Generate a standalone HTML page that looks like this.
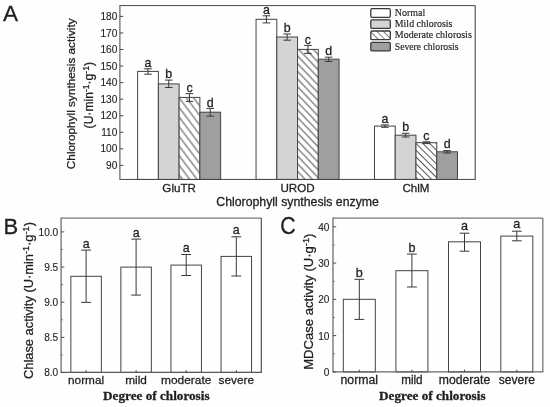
<!DOCTYPE html>
<html><head><meta charset="utf-8"><style>
html,body{margin:0;padding:0;background:#fff;}
svg{display:block;filter:blur(0.3px);}
text{stroke:#1e1e1e;stroke-width:0.28px;paint-order:stroke;}
</style></head><body>
<svg width="550" height="407" viewBox="0 0 550 407">
<rect width="550" height="407" fill="#fefefe"/>
<defs>
<pattern id="hatch0" patternUnits="userSpaceOnUse" x="0.1" width="5.8" height="5.8" patternTransform="rotate(-37)">
<rect width="5.8" height="5.8" fill="#fff"/>
<line x1="2.9" y1="0" x2="2.9" y2="5.8" stroke="#2e2e2e" stroke-width="0.85"/>
</pattern>
<pattern id="hatch1" patternUnits="userSpaceOnUse" x="-0.975" width="5.31" height="5.31" patternTransform="rotate(-43.6)">
<rect width="5.31" height="5.31" fill="#fff"/>
<line x1="2.655" y1="0" x2="2.655" y2="5.31" stroke="#2e2e2e" stroke-width="0.85"/>
</pattern>
<pattern id="hatch2" patternUnits="userSpaceOnUse" x="-1.65" width="4.8" height="4.8" patternTransform="rotate(-45)">
<rect width="4.8" height="4.8" fill="#fff"/>
<line x1="2.4" y1="0" x2="2.4" y2="4.8" stroke="#2e2e2e" stroke-width="0.8"/>
</pattern>
<pattern id="hatchl" patternUnits="userSpaceOnUse" width="4.6" height="4.6" patternTransform="rotate(-45)">
<rect width="4.6" height="4.6" fill="#fff"/>
<line x1="0" y1="0" x2="0" y2="4.6" stroke="#333" stroke-width="1.2"/>
</pattern>
</defs>
<rect x="137.62" y="71.40" width="20.75" height="108.05" fill="#ffffff" stroke="#444" stroke-width="1.0"/>
<rect x="158.37" y="83.90" width="20.75" height="95.55" fill="#d4d4d4" stroke="#444" stroke-width="1.0"/>
<rect x="179.12" y="97.40" width="20.75" height="82.05" fill="url(#hatch0)" stroke="#444" stroke-width="1.0"/>
<rect x="199.87" y="112.20" width="20.75" height="67.25" fill="#9f9f9f" stroke="#444" stroke-width="1.0"/>
<line x1="147.99" y1="68.80" x2="147.99" y2="74.20" stroke="#383838" stroke-width="1.0"/>
<line x1="144.19" y1="68.80" x2="151.79" y2="68.80" stroke="#383838" stroke-width="1.0"/>
<line x1="144.19" y1="74.20" x2="151.79" y2="74.20" stroke="#383838" stroke-width="1.0"/>
<text x="147.99" y="66.95" font-size="12.4" text-anchor="middle" font-family="'Liberation Sans', Arial, sans-serif" font-weight="normal" fill="#1e1e1e" >a</text>
<line x1="168.74" y1="80.10" x2="168.74" y2="87.50" stroke="#383838" stroke-width="1.0"/>
<line x1="164.94" y1="80.10" x2="172.54" y2="80.10" stroke="#383838" stroke-width="1.0"/>
<line x1="164.94" y1="87.50" x2="172.54" y2="87.50" stroke="#383838" stroke-width="1.0"/>
<text x="168.74" y="78.45" font-size="12.4" text-anchor="middle" font-family="'Liberation Sans', Arial, sans-serif" font-weight="normal" fill="#1e1e1e" >b</text>
<line x1="189.49" y1="93.60" x2="189.49" y2="101.40" stroke="#383838" stroke-width="1.0"/>
<line x1="185.69" y1="93.60" x2="193.29" y2="93.60" stroke="#383838" stroke-width="1.0"/>
<line x1="185.69" y1="101.40" x2="193.29" y2="101.40" stroke="#383838" stroke-width="1.0"/>
<text x="189.49" y="91.85" font-size="12.4" text-anchor="middle" font-family="'Liberation Sans', Arial, sans-serif" font-weight="normal" fill="#1e1e1e" >c</text>
<line x1="210.24" y1="108.40" x2="210.24" y2="116.20" stroke="#383838" stroke-width="1.0"/>
<line x1="206.44" y1="108.40" x2="214.04" y2="108.40" stroke="#383838" stroke-width="1.0"/>
<line x1="206.44" y1="116.20" x2="214.04" y2="116.20" stroke="#383838" stroke-width="1.0"/>
<text x="210.24" y="106.75" font-size="12.4" text-anchor="middle" font-family="'Liberation Sans', Arial, sans-serif" font-weight="normal" fill="#1e1e1e" >d</text>
<text x="179.12" y="192.40" font-size="11.6" text-anchor="middle" font-family="'Liberation Sans', Arial, sans-serif" font-weight="normal" fill="#1e1e1e" >GluTR</text>
<rect x="256.05" y="19.30" width="20.75" height="160.15" fill="#ffffff" stroke="#444" stroke-width="1.0"/>
<rect x="276.80" y="37.00" width="20.75" height="142.45" fill="#d4d4d4" stroke="#444" stroke-width="1.0"/>
<rect x="297.55" y="49.40" width="20.75" height="130.05" fill="url(#hatch1)" stroke="#444" stroke-width="1.0"/>
<rect x="318.30" y="59.20" width="20.75" height="120.25" fill="#9f9f9f" stroke="#444" stroke-width="1.0"/>
<line x1="266.42" y1="15.80" x2="266.42" y2="22.90" stroke="#383838" stroke-width="1.0"/>
<line x1="262.62" y1="15.80" x2="270.22" y2="15.80" stroke="#383838" stroke-width="1.0"/>
<line x1="262.62" y1="22.90" x2="270.22" y2="22.90" stroke="#383838" stroke-width="1.0"/>
<text x="266.42" y="13.55" font-size="12.4" text-anchor="middle" font-family="'Liberation Sans', Arial, sans-serif" font-weight="normal" fill="#1e1e1e" >a</text>
<line x1="287.17" y1="34.00" x2="287.17" y2="40.20" stroke="#383838" stroke-width="1.0"/>
<line x1="283.37" y1="34.00" x2="290.97" y2="34.00" stroke="#383838" stroke-width="1.0"/>
<line x1="283.37" y1="40.20" x2="290.97" y2="40.20" stroke="#383838" stroke-width="1.0"/>
<text x="287.17" y="31.75" font-size="12.4" text-anchor="middle" font-family="'Liberation Sans', Arial, sans-serif" font-weight="normal" fill="#1e1e1e" >b</text>
<line x1="307.92" y1="45.40" x2="307.92" y2="53.40" stroke="#383838" stroke-width="1.0"/>
<line x1="304.12" y1="45.40" x2="311.72" y2="45.40" stroke="#383838" stroke-width="1.0"/>
<line x1="304.12" y1="53.40" x2="311.72" y2="53.40" stroke="#383838" stroke-width="1.0"/>
<text x="307.92" y="43.85" font-size="12.4" text-anchor="middle" font-family="'Liberation Sans', Arial, sans-serif" font-weight="normal" fill="#1e1e1e" >c</text>
<line x1="328.67" y1="57.20" x2="328.67" y2="61.40" stroke="#383838" stroke-width="1.0"/>
<line x1="324.87" y1="57.20" x2="332.47" y2="57.20" stroke="#383838" stroke-width="1.0"/>
<line x1="324.87" y1="61.40" x2="332.47" y2="61.40" stroke="#383838" stroke-width="1.0"/>
<text x="328.67" y="54.85" font-size="12.4" text-anchor="middle" font-family="'Liberation Sans', Arial, sans-serif" font-weight="normal" fill="#1e1e1e" >d</text>
<text x="297.55" y="192.40" font-size="11.6" text-anchor="middle" font-family="'Liberation Sans', Arial, sans-serif" font-weight="normal" fill="#1e1e1e" >UROD</text>
<rect x="374.48" y="126.10" width="20.75" height="53.35" fill="#ffffff" stroke="#444" stroke-width="1.0"/>
<rect x="395.23" y="135.20" width="20.75" height="44.25" fill="#d4d4d4" stroke="#444" stroke-width="1.0"/>
<rect x="415.98" y="142.70" width="20.75" height="36.75" fill="url(#hatch2)" stroke="#444" stroke-width="1.0"/>
<rect x="436.73" y="151.80" width="20.75" height="27.65" fill="#9f9f9f" stroke="#444" stroke-width="1.0"/>
<line x1="384.86" y1="124.90" x2="384.86" y2="127.30" stroke="#383838" stroke-width="1.0"/>
<line x1="381.06" y1="124.90" x2="388.66" y2="124.90" stroke="#383838" stroke-width="1.0"/>
<line x1="381.06" y1="127.30" x2="388.66" y2="127.30" stroke="#383838" stroke-width="1.0"/>
<text x="384.86" y="123.05" font-size="12.4" text-anchor="middle" font-family="'Liberation Sans', Arial, sans-serif" font-weight="normal" fill="#1e1e1e" >a</text>
<line x1="405.61" y1="133.30" x2="405.61" y2="137.00" stroke="#383838" stroke-width="1.0"/>
<line x1="401.81" y1="133.30" x2="409.41" y2="133.30" stroke="#383838" stroke-width="1.0"/>
<line x1="401.81" y1="137.00" x2="409.41" y2="137.00" stroke="#383838" stroke-width="1.0"/>
<text x="405.61" y="131.15" font-size="12.4" text-anchor="middle" font-family="'Liberation Sans', Arial, sans-serif" font-weight="normal" fill="#1e1e1e" >b</text>
<line x1="426.36" y1="141.80" x2="426.36" y2="143.60" stroke="#383838" stroke-width="1.0"/>
<line x1="422.56" y1="141.80" x2="430.16" y2="141.80" stroke="#383838" stroke-width="1.0"/>
<line x1="422.56" y1="143.60" x2="430.16" y2="143.60" stroke="#383838" stroke-width="1.0"/>
<text x="426.36" y="139.75" font-size="12.4" text-anchor="middle" font-family="'Liberation Sans', Arial, sans-serif" font-weight="normal" fill="#1e1e1e" >c</text>
<line x1="447.11" y1="150.60" x2="447.11" y2="153.00" stroke="#383838" stroke-width="1.0"/>
<line x1="443.31" y1="150.60" x2="450.91" y2="150.60" stroke="#383838" stroke-width="1.0"/>
<line x1="443.31" y1="153.00" x2="450.91" y2="153.00" stroke="#383838" stroke-width="1.0"/>
<text x="447.11" y="147.65" font-size="12.4" text-anchor="middle" font-family="'Liberation Sans', Arial, sans-serif" font-weight="normal" fill="#1e1e1e" >d</text>
<text x="415.98" y="192.40" font-size="11.6" text-anchor="middle" font-family="'Liberation Sans', Arial, sans-serif" font-weight="normal" fill="#1e1e1e" >ChlM</text>
<line x1="119.90" y1="5.60" x2="475.20" y2="5.60" stroke="#484848" stroke-width="1.0"/>
<line x1="475.20" y1="5.60" x2="475.20" y2="179.45" stroke="#484848" stroke-width="1.1"/>
<line x1="119.90" y1="179.45" x2="475.70" y2="179.45" stroke="#484848" stroke-width="1.0"/>
<line x1="119.90" y1="5.10" x2="119.90" y2="179.95" stroke="#727272" stroke-width="1.35"/>
<line x1="119.90" y1="165.40" x2="123.30" y2="165.40" stroke="#4a4a4a" stroke-width="1.0"/>
<text x="117.30" y="169.00" font-size="10.1" text-anchor="end" font-family="'Liberation Sans', Arial, sans-serif" font-weight="normal" fill="#1e1e1e" style="stroke-width:0.12px">90</text>
<line x1="119.90" y1="148.84" x2="123.30" y2="148.84" stroke="#4a4a4a" stroke-width="1.0"/>
<text x="117.30" y="152.44" font-size="10.1" text-anchor="end" font-family="'Liberation Sans', Arial, sans-serif" font-weight="normal" fill="#1e1e1e" style="stroke-width:0.12px">100</text>
<line x1="119.90" y1="132.29" x2="123.30" y2="132.29" stroke="#4a4a4a" stroke-width="1.0"/>
<text x="117.30" y="135.89" font-size="10.1" text-anchor="end" font-family="'Liberation Sans', Arial, sans-serif" font-weight="normal" fill="#1e1e1e" style="stroke-width:0.12px">110</text>
<line x1="119.90" y1="115.73" x2="123.30" y2="115.73" stroke="#4a4a4a" stroke-width="1.0"/>
<text x="117.30" y="119.33" font-size="10.1" text-anchor="end" font-family="'Liberation Sans', Arial, sans-serif" font-weight="normal" fill="#1e1e1e" style="stroke-width:0.12px">120</text>
<line x1="119.90" y1="99.18" x2="123.30" y2="99.18" stroke="#4a4a4a" stroke-width="1.0"/>
<text x="117.30" y="102.78" font-size="10.1" text-anchor="end" font-family="'Liberation Sans', Arial, sans-serif" font-weight="normal" fill="#1e1e1e" style="stroke-width:0.12px">130</text>
<line x1="119.90" y1="82.62" x2="123.30" y2="82.62" stroke="#4a4a4a" stroke-width="1.0"/>
<text x="117.30" y="86.22" font-size="10.1" text-anchor="end" font-family="'Liberation Sans', Arial, sans-serif" font-weight="normal" fill="#1e1e1e" style="stroke-width:0.12px">140</text>
<line x1="119.90" y1="66.07" x2="123.30" y2="66.07" stroke="#4a4a4a" stroke-width="1.0"/>
<text x="117.30" y="69.67" font-size="10.1" text-anchor="end" font-family="'Liberation Sans', Arial, sans-serif" font-weight="normal" fill="#1e1e1e" style="stroke-width:0.12px">150</text>
<line x1="119.90" y1="49.51" x2="123.30" y2="49.51" stroke="#4a4a4a" stroke-width="1.0"/>
<text x="117.30" y="53.11" font-size="10.1" text-anchor="end" font-family="'Liberation Sans', Arial, sans-serif" font-weight="normal" fill="#1e1e1e" style="stroke-width:0.12px">160</text>
<line x1="119.90" y1="32.96" x2="123.30" y2="32.96" stroke="#4a4a4a" stroke-width="1.0"/>
<text x="117.30" y="36.56" font-size="10.1" text-anchor="end" font-family="'Liberation Sans', Arial, sans-serif" font-weight="normal" fill="#1e1e1e" style="stroke-width:0.12px">170</text>
<line x1="119.90" y1="16.40" x2="123.30" y2="16.40" stroke="#4a4a4a" stroke-width="1.0"/>
<text x="117.30" y="20.00" font-size="10.1" text-anchor="end" font-family="'Liberation Sans', Arial, sans-serif" font-weight="normal" fill="#1e1e1e" style="stroke-width:0.12px">180</text>
<rect x="370.8" y="8.70" width="19.5" height="8.6" rx="1.2" fill="#ffffff" stroke="#3a3a3a" stroke-width="1.3"/>
<text x="394.80" y="15.90" font-size="9.7" text-anchor="start" font-family="'Liberation Serif', 'Times New Roman', serif" font-weight="normal" fill="#1e1e1e" style="stroke-width:0.15px" textLength="30.5" lengthAdjust="spacingAndGlyphs">Normal</text>
<rect x="370.8" y="19.80" width="19.5" height="8.6" rx="1.2" fill="#d4d4d4" stroke="#3a3a3a" stroke-width="1.3"/>
<text x="394.80" y="27.00" font-size="9.7" text-anchor="start" font-family="'Liberation Serif', 'Times New Roman', serif" font-weight="normal" fill="#1e1e1e" style="stroke-width:0.15px" textLength="57.6" lengthAdjust="spacingAndGlyphs">Mild chlorosis</text>
<rect x="370.8" y="31.00" width="19.5" height="8.6" rx="1.2" fill="url(#hatchl)" stroke="#3a3a3a" stroke-width="1.3"/>
<text x="394.80" y="38.20" font-size="9.7" text-anchor="start" font-family="'Liberation Serif', 'Times New Roman', serif" font-weight="normal" fill="#1e1e1e" style="stroke-width:0.15px" textLength="77.0" lengthAdjust="spacingAndGlyphs">Moderate chlorosis</text>
<rect x="370.8" y="42.30" width="19.5" height="8.6" rx="1.2" fill="#9f9f9f" stroke="#3a3a3a" stroke-width="1.3"/>
<text x="394.80" y="49.50" font-size="9.7" text-anchor="start" font-family="'Liberation Serif', 'Times New Roman', serif" font-weight="normal" fill="#1e1e1e" style="stroke-width:0.15px" textLength="63.6" lengthAdjust="spacingAndGlyphs">Severe chlorosis</text>
<text x="297.60" y="206.20" font-size="12.1" text-anchor="middle" font-family="'Liberation Sans', Arial, sans-serif" font-weight="normal" fill="#1e1e1e"  textLength="162.5" lengthAdjust="spacingAndGlyphs">Chlorophyll synthesis enzyme</text>
<text transform="translate(75.1,93.8) rotate(-90)" font-size="11.8" text-anchor="middle" font-family="'Liberation Sans', Arial, sans-serif" fill="#1e1e1e">Chlorophyll synthesis activity</text>
<text transform="translate(92.8,95.2) rotate(-90)" font-size="12.1" text-anchor="middle" font-family="'Liberation Sans', Arial, sans-serif" fill="#1e1e1e">(U·min<tspan font-size="8.6" dy="-3.8">-1</tspan><tspan dy="3.8">·g</tspan><tspan font-size="8.6" dy="-3.8">-1</tspan><tspan dy="3.8">)</tspan></text>
<text x="3.00" y="21.30" font-size="22.5" text-anchor="start" font-family="'Liberation Sans', Arial, sans-serif" font-weight="normal" fill="#1e1e1e" >A</text>
<rect x="70.85" y="276.30" width="30.5" height="96.10" fill="#fff" stroke="#444" stroke-width="1.0"/>
<rect x="120.85" y="267.10" width="30.5" height="105.30" fill="#fff" stroke="#444" stroke-width="1.0"/>
<rect x="170.95" y="265.10" width="30.5" height="107.30" fill="#fff" stroke="#444" stroke-width="1.0"/>
<rect x="221.05" y="256.40" width="30.5" height="116.00" fill="#fff" stroke="#444" stroke-width="1.0"/>
<line x1="86.10" y1="250.10" x2="86.10" y2="302.40" stroke="#383838" stroke-width="1.0"/>
<line x1="81.20" y1="250.10" x2="91.00" y2="250.10" stroke="#383838" stroke-width="1.0"/>
<line x1="81.20" y1="302.40" x2="91.00" y2="302.40" stroke="#383838" stroke-width="1.0"/>
<text x="86.10" y="247.65" font-size="12.4" text-anchor="middle" font-family="'Liberation Sans', Arial, sans-serif" font-weight="normal" fill="#1e1e1e" >a</text>
<line x1="136.10" y1="239.10" x2="136.10" y2="295.10" stroke="#383838" stroke-width="1.0"/>
<line x1="131.20" y1="239.10" x2="141.00" y2="239.10" stroke="#383838" stroke-width="1.0"/>
<line x1="131.20" y1="295.10" x2="141.00" y2="295.10" stroke="#383838" stroke-width="1.0"/>
<text x="136.10" y="236.55" font-size="12.4" text-anchor="middle" font-family="'Liberation Sans', Arial, sans-serif" font-weight="normal" fill="#1e1e1e" >a</text>
<line x1="186.20" y1="254.50" x2="186.20" y2="275.50" stroke="#383838" stroke-width="1.0"/>
<line x1="181.30" y1="254.50" x2="191.10" y2="254.50" stroke="#383838" stroke-width="1.0"/>
<line x1="181.30" y1="275.50" x2="191.10" y2="275.50" stroke="#383838" stroke-width="1.0"/>
<text x="186.20" y="251.95" font-size="12.4" text-anchor="middle" font-family="'Liberation Sans', Arial, sans-serif" font-weight="normal" fill="#1e1e1e" >a</text>
<line x1="236.30" y1="236.80" x2="236.30" y2="276.00" stroke="#383838" stroke-width="1.0"/>
<line x1="231.40" y1="236.80" x2="241.20" y2="236.80" stroke="#383838" stroke-width="1.0"/>
<line x1="231.40" y1="276.00" x2="241.20" y2="276.00" stroke="#383838" stroke-width="1.0"/>
<text x="236.30" y="234.05" font-size="12.4" text-anchor="middle" font-family="'Liberation Sans', Arial, sans-serif" font-weight="normal" fill="#1e1e1e" >a</text>
<line x1="61.10" y1="218.10" x2="261.30" y2="218.10" stroke="#777" stroke-width="1.4"/>
<line x1="261.30" y1="218.10" x2="261.30" y2="372.40" stroke="#505050" stroke-width="1.2"/>
<line x1="61.10" y1="372.40" x2="261.80" y2="372.40" stroke="#5a5a5a" stroke-width="1.3"/>
<line x1="61.10" y1="217.60" x2="61.10" y2="372.90" stroke="#727272" stroke-width="1.35"/>
<line x1="61.10" y1="231.90" x2="64.30" y2="231.90" stroke="#4a4a4a" stroke-width="1.0"/>
<text x="58.20" y="235.50" font-size="10.1" text-anchor="end" font-family="'Liberation Sans', Arial, sans-serif" font-weight="normal" fill="#1e1e1e" style="stroke-width:0.12px">10.0</text>
<line x1="61.10" y1="267.05" x2="64.30" y2="267.05" stroke="#4a4a4a" stroke-width="1.0"/>
<text x="58.20" y="270.65" font-size="10.1" text-anchor="end" font-family="'Liberation Sans', Arial, sans-serif" font-weight="normal" fill="#1e1e1e" style="stroke-width:0.12px">9.5</text>
<line x1="61.10" y1="302.20" x2="64.30" y2="302.20" stroke="#4a4a4a" stroke-width="1.0"/>
<text x="58.20" y="305.80" font-size="10.1" text-anchor="end" font-family="'Liberation Sans', Arial, sans-serif" font-weight="normal" fill="#1e1e1e" style="stroke-width:0.12px">9.0</text>
<line x1="61.10" y1="337.35" x2="64.30" y2="337.35" stroke="#4a4a4a" stroke-width="1.0"/>
<text x="58.20" y="340.95" font-size="10.1" text-anchor="end" font-family="'Liberation Sans', Arial, sans-serif" font-weight="normal" fill="#1e1e1e" style="stroke-width:0.12px">8.5</text>
<line x1="61.10" y1="372.50" x2="64.30" y2="372.50" stroke="#4a4a4a" stroke-width="1.0"/>
<text x="58.20" y="376.10" font-size="10.1" text-anchor="end" font-family="'Liberation Sans', Arial, sans-serif" font-weight="normal" fill="#1e1e1e" style="stroke-width:0.12px">8.0</text>
<line x1="61.10" y1="249.48" x2="62.90" y2="249.48" stroke="#727272" stroke-width="1.1"/>
<line x1="61.10" y1="284.62" x2="62.90" y2="284.62" stroke="#727272" stroke-width="1.1"/>
<line x1="61.10" y1="319.77" x2="62.90" y2="319.77" stroke="#727272" stroke-width="1.1"/>
<line x1="61.10" y1="354.93" x2="62.90" y2="354.93" stroke="#727272" stroke-width="1.1"/>
<line x1="86.10" y1="372.40" x2="86.10" y2="370.20" stroke="#444" stroke-width="1.0"/>
<text x="86.10" y="384.10" font-size="11.8" text-anchor="middle" font-family="'Liberation Sans', Arial, sans-serif" font-weight="normal" fill="#1e1e1e" >normal</text>
<line x1="136.10" y1="372.40" x2="136.10" y2="370.20" stroke="#444" stroke-width="1.0"/>
<text x="136.10" y="384.10" font-size="11.8" text-anchor="middle" font-family="'Liberation Sans', Arial, sans-serif" font-weight="normal" fill="#1e1e1e" >mild</text>
<line x1="186.20" y1="372.40" x2="186.20" y2="370.20" stroke="#444" stroke-width="1.0"/>
<text x="186.20" y="384.10" font-size="11.8" text-anchor="middle" font-family="'Liberation Sans', Arial, sans-serif" font-weight="normal" fill="#1e1e1e"  textLength="50.3" lengthAdjust="spacingAndGlyphs">moderate</text>
<line x1="236.30" y1="372.40" x2="236.30" y2="370.20" stroke="#444" stroke-width="1.0"/>
<text x="236.30" y="384.10" font-size="11.8" text-anchor="middle" font-family="'Liberation Sans', Arial, sans-serif" font-weight="normal" fill="#1e1e1e" >severe</text>
<text x="156.30" y="400.20" font-size="12.4" text-anchor="middle" font-family="'Liberation Serif', 'Times New Roman', serif" font-weight="bold" fill="#1e1e1e"  textLength="106.5" lengthAdjust="spacingAndGlyphs">Degree of chlorosis</text>
<text transform="translate(33.1,300.5) rotate(-90)" font-size="12.85" text-anchor="middle" font-family="'Liberation Sans', Arial, sans-serif" fill="#1e1e1e">Chlase activity (U·min<tspan font-size="9.2" dy="-4.1">-1</tspan><tspan dy="4.1">·g</tspan><tspan font-size="9.2" dy="-4.1">-1</tspan><tspan dy="4.1">)</tspan></text>
<text x="3.60" y="233.90" font-size="22" text-anchor="start" font-family="'Liberation Sans', Arial, sans-serif" font-weight="normal" fill="#1e1e1e" >B</text>
<rect x="343.30" y="299.30" width="32.0" height="72.60" fill="#fff" stroke="#444" stroke-width="1.0"/>
<rect x="395.90" y="270.70" width="32.0" height="101.20" fill="#fff" stroke="#444" stroke-width="1.0"/>
<rect x="448.50" y="241.80" width="32.0" height="130.10" fill="#fff" stroke="#444" stroke-width="1.0"/>
<rect x="500.80" y="236.10" width="32.0" height="135.80" fill="#fff" stroke="#444" stroke-width="1.0"/>
<line x1="359.30" y1="279.30" x2="359.30" y2="319.40" stroke="#383838" stroke-width="1.0"/>
<line x1="354.40" y1="279.30" x2="364.20" y2="279.30" stroke="#383838" stroke-width="1.0"/>
<line x1="354.40" y1="319.40" x2="364.20" y2="319.40" stroke="#383838" stroke-width="1.0"/>
<text x="359.30" y="277.05" font-size="12.6" text-anchor="middle" font-family="'Liberation Sans', Arial, sans-serif" font-weight="normal" fill="#1e1e1e" >b</text>
<line x1="411.90" y1="254.10" x2="411.90" y2="287.00" stroke="#383838" stroke-width="1.0"/>
<line x1="407.00" y1="254.10" x2="416.80" y2="254.10" stroke="#383838" stroke-width="1.0"/>
<line x1="407.00" y1="287.00" x2="416.80" y2="287.00" stroke="#383838" stroke-width="1.0"/>
<text x="411.90" y="251.65" font-size="12.6" text-anchor="middle" font-family="'Liberation Sans', Arial, sans-serif" font-weight="normal" fill="#1e1e1e" >b</text>
<line x1="464.50" y1="233.20" x2="464.50" y2="251.20" stroke="#383838" stroke-width="1.0"/>
<line x1="459.60" y1="233.20" x2="469.40" y2="233.20" stroke="#383838" stroke-width="1.0"/>
<line x1="459.60" y1="251.20" x2="469.40" y2="251.20" stroke="#383838" stroke-width="1.0"/>
<text x="464.50" y="230.25" font-size="12.6" text-anchor="middle" font-family="'Liberation Sans', Arial, sans-serif" font-weight="normal" fill="#1e1e1e" >a</text>
<line x1="516.80" y1="231.20" x2="516.80" y2="240.80" stroke="#383838" stroke-width="1.0"/>
<line x1="511.90" y1="231.20" x2="521.70" y2="231.20" stroke="#383838" stroke-width="1.0"/>
<line x1="511.90" y1="240.80" x2="521.70" y2="240.80" stroke="#383838" stroke-width="1.0"/>
<text x="516.80" y="228.15" font-size="12.6" text-anchor="middle" font-family="'Liberation Sans', Arial, sans-serif" font-weight="normal" fill="#1e1e1e" >a</text>
<line x1="333.00" y1="218.10" x2="542.80" y2="218.10" stroke="#777" stroke-width="1.4"/>
<line x1="542.80" y1="218.10" x2="542.80" y2="371.90" stroke="#777" stroke-width="1.3"/>
<line x1="333.00" y1="371.90" x2="543.30" y2="371.90" stroke="#666" stroke-width="1.3"/>
<line x1="333.00" y1="217.60" x2="333.00" y2="372.40" stroke="#727272" stroke-width="1.35"/>
<line x1="333.00" y1="371.90" x2="336.20" y2="371.90" stroke="#4a4a4a" stroke-width="1.0"/>
<text x="329.40" y="376.00" font-size="10.1" text-anchor="end" font-family="'Liberation Sans', Arial, sans-serif" font-weight="normal" fill="#1e1e1e" style="stroke-width:0.12px">0</text>
<line x1="333.00" y1="335.62" x2="336.20" y2="335.62" stroke="#4a4a4a" stroke-width="1.0"/>
<text x="329.40" y="339.73" font-size="10.1" text-anchor="end" font-family="'Liberation Sans', Arial, sans-serif" font-weight="normal" fill="#1e1e1e" style="stroke-width:0.12px">10</text>
<line x1="333.00" y1="299.35" x2="336.20" y2="299.35" stroke="#4a4a4a" stroke-width="1.0"/>
<text x="329.40" y="303.45" font-size="10.1" text-anchor="end" font-family="'Liberation Sans', Arial, sans-serif" font-weight="normal" fill="#1e1e1e" style="stroke-width:0.12px">20</text>
<line x1="333.00" y1="263.07" x2="336.20" y2="263.07" stroke="#4a4a4a" stroke-width="1.0"/>
<text x="329.40" y="267.18" font-size="10.1" text-anchor="end" font-family="'Liberation Sans', Arial, sans-serif" font-weight="normal" fill="#1e1e1e" style="stroke-width:0.12px">30</text>
<line x1="333.00" y1="226.80" x2="336.20" y2="226.80" stroke="#4a4a4a" stroke-width="1.0"/>
<text x="329.40" y="230.90" font-size="10.1" text-anchor="end" font-family="'Liberation Sans', Arial, sans-serif" font-weight="normal" fill="#1e1e1e" style="stroke-width:0.12px">40</text>
<line x1="333.00" y1="353.76" x2="334.80" y2="353.76" stroke="#727272" stroke-width="1.1"/>
<line x1="333.00" y1="317.49" x2="334.80" y2="317.49" stroke="#727272" stroke-width="1.1"/>
<line x1="333.00" y1="281.21" x2="334.80" y2="281.21" stroke="#727272" stroke-width="1.1"/>
<line x1="333.00" y1="244.94" x2="334.80" y2="244.94" stroke="#727272" stroke-width="1.1"/>
<line x1="359.30" y1="371.90" x2="359.30" y2="369.70" stroke="#444" stroke-width="1.0"/>
<text x="359.30" y="384.45" font-size="12.0" text-anchor="middle" font-family="'Liberation Sans', Arial, sans-serif" font-weight="normal" fill="#1e1e1e"  textLength="37.6" lengthAdjust="spacingAndGlyphs">normal</text>
<line x1="411.90" y1="371.90" x2="411.90" y2="369.70" stroke="#444" stroke-width="1.0"/>
<text x="411.90" y="384.45" font-size="12.0" text-anchor="middle" font-family="'Liberation Sans', Arial, sans-serif" font-weight="normal" fill="#1e1e1e"  textLength="21.5" lengthAdjust="spacingAndGlyphs">mild</text>
<line x1="464.50" y1="371.90" x2="464.50" y2="369.70" stroke="#444" stroke-width="1.0"/>
<text x="464.50" y="384.45" font-size="12.0" text-anchor="middle" font-family="'Liberation Sans', Arial, sans-serif" font-weight="normal" fill="#1e1e1e"  textLength="51.5" lengthAdjust="spacingAndGlyphs">moderate</text>
<line x1="516.80" y1="371.90" x2="516.80" y2="369.70" stroke="#444" stroke-width="1.0"/>
<text x="516.80" y="384.45" font-size="12.0" text-anchor="middle" font-family="'Liberation Sans', Arial, sans-serif" font-weight="normal" fill="#1e1e1e"  textLength="36.3" lengthAdjust="spacingAndGlyphs">severe</text>
<text x="432.30" y="399.60" font-size="12.4" text-anchor="middle" font-family="'Liberation Serif', 'Times New Roman', serif" font-weight="bold" fill="#1e1e1e"  textLength="106.5" lengthAdjust="spacingAndGlyphs">Degree of chlorosis</text>
<text transform="translate(312.6,301.7) rotate(-90)" font-size="13.1" text-anchor="middle" font-family="'Liberation Sans', Arial, sans-serif" fill="#1e1e1e">MDCase activity (U·g<tspan font-size="9.2" dy="-4.1">-1</tspan><tspan dy="4.1">)</tspan></text>
<text x="280.30" y="234.40" font-size="23.3" text-anchor="start" font-family="'Liberation Sans', Arial, sans-serif" font-weight="normal" fill="#1e1e1e"  textLength="15.4" lengthAdjust="spacingAndGlyphs">C</text>
</svg>
</body></html>
